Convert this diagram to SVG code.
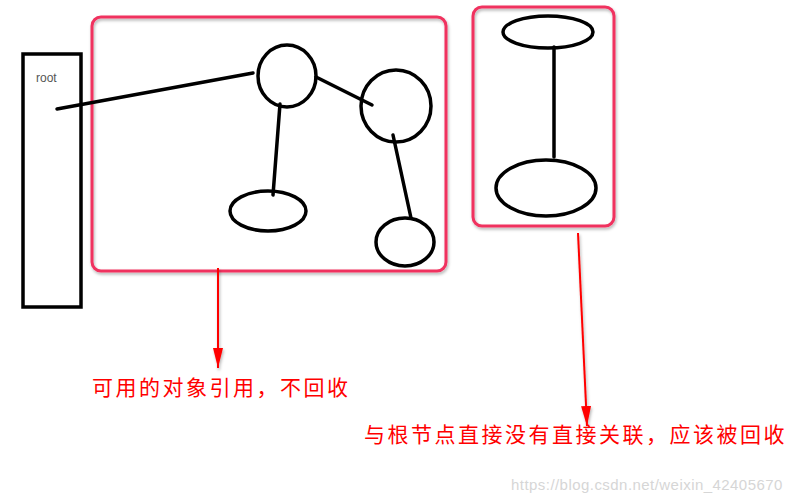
<svg xmlns="http://www.w3.org/2000/svg" width="792" height="504" viewBox="0 0 792 504">
<defs>
<style>
.obj{fill:none;stroke:#000;stroke-width:3.5}
.edge{stroke:#000;stroke-width:3.5;stroke-linecap:round;fill:none}
.frame{fill:none;stroke:#f0325f;stroke-width:3}
.note{fill:#ff0000;font-family:"Noto Sans CJK SC","Noto Sans CJK JP",sans-serif;font-size:21px;letter-spacing:2.5px}
.red{stroke:#ff0000;stroke-width:2;fill:none}
</style>
<filter id="sh" x="-10%" y="-10%" width="120%" height="120%">
<feDropShadow dx="1" dy="2" stdDeviation="1.5" flood-color="#000" flood-opacity="0.3"/>
</filter>
<marker id="ah" viewBox="0 0 20 10" refX="20" refY="5" markerWidth="20" markerHeight="10" markerUnits="userSpaceOnUse" orient="auto">
<path d="M0,0 L20,5 L0,10 Z" fill="#ff0000"/>
</marker>
</defs>
<rect width="792" height="504" fill="#fff"/>
<g id="root">
<rect x="23" y="54" width="58" height="253" fill="#fff" stroke="#000" stroke-width="3.5"/>
<text x="36" y="82" font-family="Liberation Sans, sans-serif" font-size="12" fill="#555">root</text>
</g>
<g id="reachable-group">
<rect class="frame" x="92" y="17" width="354" height="254" rx="9" filter="url(#sh)"/>
</g>
<g id="unreachable-group">
<rect class="frame" x="473" y="7" width="141" height="219" rx="9" filter="url(#sh)"/>
</g>
<g id="connectors">
<line class="edge" x1="57" y1="109" x2="253" y2="73"/>
<line class="edge" x1="316" y1="77" x2="372" y2="105"/>
<line class="edge" x1="280" y1="104" x2="273" y2="195"/>
<line class="edge" x1="393" y1="135" x2="411" y2="218"/>
<line class="edge" x1="554" y1="47" x2="554" y2="157"/>
</g>
<g id="n1"><ellipse class="obj" cx="287" cy="76" rx="29" ry="31"/></g>
<g id="n2"><ellipse class="obj" cx="396" cy="106" rx="35" ry="36"/></g>
<g id="n3"><ellipse class="obj" cx="268" cy="211" rx="38" ry="20"/></g>
<g id="n4"><ellipse class="obj" cx="405" cy="242" rx="29" ry="24"/></g>
<g id="n5"><ellipse class="obj" cx="548" cy="32" rx="45" ry="16"/></g>
<g id="n6"><ellipse class="obj" cx="546" cy="188" rx="50" ry="28"/></g>
<g id="annotations" filter="url(#sh)">
<line class="red" x1="218" y1="268" x2="218" y2="368" marker-end="url(#ah)"/>
<line class="red" x1="578" y1="233" x2="587" y2="426" marker-end="url(#ah)"/>
</g>
<g id="labels">
<text class="note" x="92" y="395">可用的对象引用，不回收</text>
<text class="note" x="364" y="442" letter-spacing="3.1">与根节点直接没有直接关联，应该被回收</text>
<text x="511" y="490" font-family="Liberation Sans, sans-serif" font-size="15" letter-spacing="0.45" fill="#d6d6d6">https://blog.csdn.net/weixin_42405670</text>
</g>
</svg>
